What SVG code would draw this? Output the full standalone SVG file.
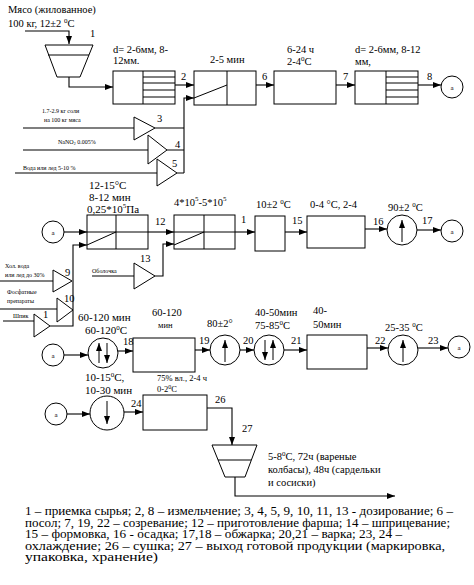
<svg xmlns="http://www.w3.org/2000/svg" width="474" height="585" viewBox="0 0 474 585" font-family="Liberation Serif, serif">
<style>
text{font-family:"Liberation Serif","Times New Roman",serif;fill:#000}
.m{font-size:10.5px}
.l{font-size:11px}
.g{font-size:11.5px}
.xs{font-size:6px}
.sm{font-size:8.5px}
.a{font-size:7px}
.sh{fill:none;stroke:#000;stroke-width:1}
.c{fill:none;stroke:#000;stroke-width:1.1}
</style>
<defs>
<marker id="ah" viewBox="0 0 8 6" refX="8" refY="3" markerWidth="8" markerHeight="6" markerUnits="userSpaceOnUse" orient="auto"><path d="M0,0 L8,3 L0,6 z" fill="#000"/></marker>
</defs>
<rect width="474" height="585" fill="#fff"/>

<!-- Row 1 -->
<g id="raw-label">
<text class="m" x="8" y="13">Мясо (жилованное)</text>
<text class="m" x="8" y="27">100 кг, 12±2 <tspan font-size="7" dy="-4">0</tspan><tspan dy="4">C</tspan></text>
</g>
<g id="n1">
<polygon class="sh" points="45,45 93,45 80,77 57,77"/>
<line class="sh" x1="48" y1="55" x2="89" y2="55"/>
<text class="m" x="90" y="37">1</text>
</g>
<g id="n2">
<rect class="sh" x="113" y="71" width="62" height="33"/>
<path class="sh" d="M143,71 V104 M143,77 H175 M143,83 H175 M143,90 H175 M143,97 H175"/>
<text class="m" x="113" y="53">d= 2-6мм, 8-</text>
<text class="m" x="113" y="64">12мм.</text>
</g>
<g id="n-mix1">
<rect class="sh" x="194" y="71" width="62" height="34"/>
<path class="sh" d="M227,71 V105 M194,98 L227,85"/>
<text class="m" x="210" y="63">2-5 мин</text>
</g>
<g id="n6">
<rect class="sh" x="274" y="71" width="62" height="33"/>
<text class="m" x="287" y="53">6-24 ч</text>
<text class="m" x="287" y="65">2-4<tspan font-size="7" dy="-4">0</tspan><tspan dy="4">C</tspan></text>
</g>
<g id="n8">
<rect class="sh" x="355" y="71" width="63" height="33"/>
<path class="sh" d="M386,71 V104 M386,77 H418 M386,83 H418 M386,90 H418 M386,97 H418"/>
<text class="m" x="355" y="53">d= 2-6мм, 8-12</text>
<text class="m" x="355" y="65">мм,</text>
</g>
<g id="a1">
<circle class="sh" cx="452" cy="87" r="11"/>
<text class="a" x="452" y="90" text-anchor="middle">а</text>
</g>

<!-- dosing 3,4,5 -->
<g id="n3">
<polygon class="sh" points="134,117 134,140 155,128"/>
<text class="xs" x="42" y="113">1.7-2.9 кг соли</text>
<text class="xs" x="44" y="122">на 100 кг мяса</text>
<text class="m" x="157" y="122">3</text>
</g>
<g id="n4">
<polygon class="sh" points="148,135 148,164 167,150"/>
<text class="xs" x="58" y="144">NaNO<tspan font-size="4" dy="1">2</tspan><tspan dy="-1"> 0.005%</tspan></text>
<text class="m" x="175" y="148">4</text>
</g>
<g id="n5">
<polygon class="sh" points="157,159 157,186 177,173"/>
<text class="xs" x="23" y="170">Вода или лед  5-10 %</text>
<text class="m" x="172" y="167">5</text>
</g>

<!-- Row 2 -->
<g id="a2">
<circle class="sh" cx="53" cy="232" r="11"/>
<text class="a" x="53" y="235" text-anchor="middle">а</text>
</g>
<g id="n12">
<rect class="sh" x="87" y="215" width="61" height="34"/>
<path class="sh" d="M116,215 V249 M87,232 H148 M87,245 L116,232"/>
<text class="l" x="89" y="189">12-15°C</text>
<text class="l" x="89" y="201">8-12 мин</text>
<text class="l" x="87" y="213">0,25*10<tspan font-size="7" dy="-5">5</tspan><tspan dy="5">Па</tspan></text>
</g>
<g id="n14">
<rect class="sh" x="174" y="215" width="61" height="34"/>
<path class="sh" d="M204,215 V249 M174,232 H235 M174,245 L204,232"/>
<text class="m" x="174" y="206">4*10<tspan font-size="7" dy="-5">5</tspan><tspan dy="5">-5*10</tspan><tspan font-size="7" dy="-5">5</tspan></text>
</g>
<g id="n13">
<polygon class="sh" points="134,263 134,289 155,276"/>
<text class="xs" x="92" y="273">Оболочка</text>
<text class="m" x="140" y="262">13</text>
</g>
<g id="n9">
<polygon class="sh" points="53,270 53,292 72,281"/>
<text class="xs" x="5" y="268">Хол. вода</text>
<text class="xs" x="5" y="277">или лед до 30%</text>
<text class="m" x="65" y="276">9</text>
</g>
<g id="n10">
<polygon class="sh" points="57,298 57,322 73,310"/>
<text class="xs" x="7" y="294">Фосфатные</text>
<text class="xs" x="7" y="303">препараты</text>
<text class="m" x="64" y="302">10</text>
</g>
<g id="n11">
<polygon class="sh" points="34,314 34,337 50,326"/>
<text class="xs" x="13" y="318">Шпик</text>
<text class="m" x="43" y="318">1</text>
</g>
<g id="n15">
<rect class="sh" x="255" y="216" width="30" height="35"/>
<text class="m" x="256" y="208">10±2 <tspan font-size="7" dy="-4">0</tspan><tspan dy="4">C</tspan></text>
</g>
<g id="n16">
<rect class="sh" x="307" y="216" width="58" height="32"/>
<text class="m" x="310" y="208">0-4 °C, 2-4</text>
</g>
<g id="n17">
<circle class="sh" cx="402" cy="230" r="15"/>
<line class="sh" x1="402" y1="242" x2="402" y2="220" marker-end="url(#ah)"/>
<text class="m" x="388" y="211">90±2 <tspan font-size="7" dy="-4">0</tspan><tspan dy="4">C</tspan></text>
</g>
<g id="a3">
<circle class="sh" cx="452" cy="231" r="11"/>
<text class="a" x="452" y="234" text-anchor="middle">а</text>
</g>

<!-- Row 3 -->
<g id="a4">
<circle class="sh" cx="53" cy="355" r="11"/>
<text class="a" x="53" y="358" text-anchor="middle">а</text>
</g>
<g id="n18">
<circle class="sh" cx="103" cy="353" r="15"/>
<line class="sh" x1="99" y1="363" x2="99" y2="343" marker-end="url(#ah)"/>
<line class="sh" x1="107" y1="343" x2="107" y2="363" marker-end="url(#ah)"/>
<text class="l" x="78" y="321">60-120 мин</text>
<text class="l" x="85" y="334">60-120<tspan font-size="7" dy="-4">0</tspan><tspan dy="4">C</tspan></text>
</g>
<g id="n19box">
<rect class="sh" x="133" y="338" width="62" height="34"/>
<text class="m" x="152" y="316">60-120</text>
<text class="sm" x="158" y="328">мин</text>
</g>
<g id="n19">
<circle class="sh" cx="225" cy="350" r="15"/>
<line class="sh" x1="225" y1="362" x2="225" y2="340" marker-end="url(#ah)"/>
<text class="m" x="207" y="327">80±2°</text>
</g>
<g id="n20">
<circle class="sh" cx="269" cy="350" r="15"/>
<line class="sh" x1="265" y1="340" x2="265" y2="360" marker-end="url(#ah)"/>
<line class="sh" x1="273" y1="360" x2="273" y2="340" marker-end="url(#ah)"/>
<text class="m" x="255" y="316">40-50мин</text>
<text class="m" x="255" y="329">75-85<tspan font-size="7" dy="-4">0</tspan><tspan dy="4">C</tspan></text>
</g>
<g id="n22box">
<rect class="sh" x="307" y="335" width="60" height="34"/>
<text class="m" x="313" y="314">40-</text>
<text class="m" x="313" y="328">50мин</text>
</g>
<g id="n23">
<circle class="sh" cx="403" cy="350" r="15"/>
<line class="sh" x1="403" y1="362" x2="403" y2="340" marker-end="url(#ah)"/>
<text class="m" x="385" y="331">25-35 <tspan font-size="7" dy="-4">0</tspan><tspan dy="4">C</tspan></text>
</g>
<g id="a5">
<circle class="sh" cx="459" cy="347" r="11"/>
<text class="a" x="459" y="350" text-anchor="middle">а</text>
</g>

<!-- Row 4 -->
<g id="a6">
<circle class="sh" cx="56" cy="414" r="11"/>
<text class="a" x="56" y="417" text-anchor="middle">а</text>
</g>
<g id="n24">
<circle class="sh" cx="107" cy="413" r="17"/>
<line class="sh" x1="107" y1="401" x2="107" y2="424" marker-end="url(#ah)"/>
<text class="l" x="85" y="381">10-15<tspan font-size="7" dy="-4">0</tspan><tspan dy="4">C,</tspan></text>
<text class="l" x="85" y="394">10-30 мин</text>
</g>
<g id="n26">
<rect class="sh" x="143" y="395" width="64" height="35"/>
<text class="sm" x="157" y="381">75% вл., 2-4 ч</text>
<text class="sm" x="157" y="392">0-2<tspan font-size="6" dy="-3">0</tspan><tspan dy="3">C</tspan></text>
</g>
<g id="n27">
<polygon class="sh" points="212,445 257,445 245,477 225,477"/>
<line class="sh" x1="218" y1="460" x2="251" y2="460"/>
<text class="m" x="268" y="460">5-8<tspan font-size="7" dy="-4">0</tspan><tspan dy="4">C, 72ч (вареные</tspan></text>
<text class="m" x="268" y="473">колбасы), 48ч (сардельки</text>
<text class="m" x="268" y="486">и сосиски)</text>
</g>

<!-- connectors -->
<g id="connectors">
<path class="c" d="M25,31 H69 V44" marker-end="url(#ah)"/>
<path class="c" d="M69,77 V87 H113" marker-end="url(#ah)"/>
<path class="c" d="M175,85 H194" marker-end="url(#ah)"/>
<path class="c" d="M256,85 H274" marker-end="url(#ah)"/>
<path class="c" d="M336,85 H355" marker-end="url(#ah)"/>
<path class="c" d="M418,85 H441" marker-end="url(#ah)"/>
<path class="c" d="M184,173 V98 H194" marker-end="url(#ah)"/>
<path class="c" d="M23,128 H134 M155,128 H184 M23,150 H148 M167,150 H184 M15,173 H157 M177,173 H184"/>
<path class="c" d="M64,232 H87" marker-end="url(#ah)"/>
<path class="c" d="M148,232 H174" marker-end="url(#ah)"/>
<path class="c" d="M50,326 H73 V245 H87" marker-end="url(#ah)"/>
<path class="c" d="M0,281 H53 M0,309 H57 M3,321 H34"/>
<path class="c" d="M92,276 H134"/>
<path class="c" d="M155,276 H163 V244 H174" marker-end="url(#ah)"/>
<path class="c" d="M235,232 H255" marker-end="url(#ah)"/>
<path class="c" d="M285,232 H307" marker-end="url(#ah)"/>
<path class="c" d="M365,229 H387" marker-end="url(#ah)"/>
<path class="c" d="M417,230 H441" marker-end="url(#ah)"/>
<path class="c" d="M64,355 H88" marker-end="url(#ah)"/>
<path class="c" d="M118,351 H133" marker-end="url(#ah)"/>
<path class="c" d="M195,350 H210" marker-end="url(#ah)"/>
<path class="c" d="M240,350 H254" marker-end="url(#ah)"/>
<path class="c" d="M284,350 H307" marker-end="url(#ah)"/>
<path class="c" d="M367,348 H388" marker-end="url(#ah)"/>
<path class="c" d="M418,348 H448" marker-end="url(#ah)"/>
<path class="c" d="M67,414 H90" marker-end="url(#ah)"/>
<path class="c" d="M124,412 H143" marker-end="url(#ah)"/>
<path class="c" d="M207,408 H232 V445" marker-end="url(#ah)"/>
<path class="c" d="M235,477 V496 H395" marker-end="url(#ah)"/>
<text class="m" x="181" y="80">2</text>
<text class="m" x="262" y="80">6</text>
<text class="m" x="343" y="80">7</text>
<text class="m" x="427" y="80">8</text>
<text class="m" x="155" y="225">12</text>
<text class="m" x="241" y="223">1</text>
<text class="m" x="292" y="224">15</text>
<text class="m" x="373" y="225">16</text>
<text class="m" x="422" y="224">17</text>
<text class="m" x="123" y="345">18</text>
<text class="m" x="199" y="344">19</text>
<text class="m" x="243" y="344">20</text>
<text class="m" x="291" y="344">21</text>
<text class="m" x="375" y="344">22</text>
<text class="m" x="428" y="344">23</text>
<text class="m" x="131" y="407">24</text>
<text class="m" x="215" y="403">26</text>
<text class="m" x="242" y="432">27</text>
</g>

<!-- legend -->
<g id="legend">
<text class="g" x="25" y="515" textLength="428" lengthAdjust="spacingAndGlyphs">1 – приемка сырья; 2, 8 – измельчение; 3, 4, 5, 9, 10, 11, 13 - дозирование; 6 –</text>
<text class="g" x="25" y="526.5" textLength="425" lengthAdjust="spacingAndGlyphs">посол; 7, 19, 22 – созревание; 12 – приготовление фарша; 14 – шприцевание;</text>
<text class="g" x="25" y="538" textLength="377" lengthAdjust="spacingAndGlyphs">15 – формовка, 16 - осадка; 17,18 – обжарка; 20,21 – варка; 23, 24 –</text>
<text class="g" x="25" y="549.5" textLength="420" lengthAdjust="spacingAndGlyphs">охлаждение; 26 – сушка; 27 – выход готовой продукции (маркировка,</text>
<text class="g" x="25" y="561" textLength="133" lengthAdjust="spacingAndGlyphs">упаковка, хранение)</text>
</g>
</svg>
